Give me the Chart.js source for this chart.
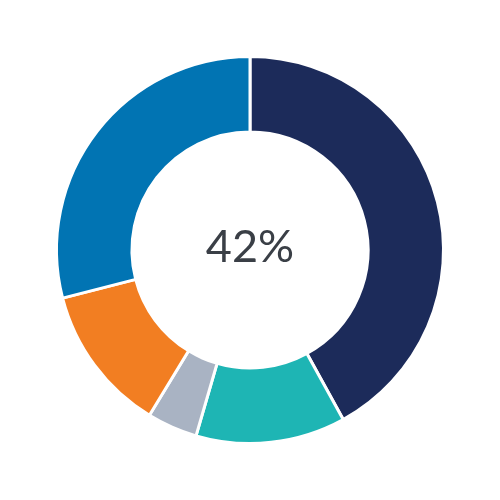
<!DOCTYPE html>
<html>
<head>
<meta charset="utf-8">
<script src="https://cdn.jsdelivr.net/npm/chart.js@4"></script>
<style>
  html, body { margin: 0; padding: 0; background: #fff; }
  #wrap { width: 500px; height: 500px; }
</style>
</head>
<body>
<div id="wrap"><canvas id="pieCanvas"></canvas></div>
<script>
const categories = ["A", "B", "C", "D", "E"];
const shares = [42, 12.5, 4.2, 12.3, 29];
const colors = ["#1c2b5a", "#1eb5b4", "#a9b3c3", "#f27e22", "#0174b3"];
const centerLabel = "42%";

const centerText = {
    id: "centerText",
    afterDraw(chart) {
        const ctx = chart.ctx;
        const meta = chart.getDatasetMeta(0).data[0];
        ctx.save();
        ctx.font = "400 45px Lato";
        ctx.fillStyle = "#3a3f46";
        ctx.textAlign = "center";
        ctx.textBaseline = "middle";
        ctx.fillText(centerLabel, meta.x, meta.y - 3);
        ctx.restore();
    }
};

new Chart(document.getElementById("pieCanvas"), {
    type: "doughnut",
    data: {
        labels: categories,
        datasets: [{
            data: shares,
            backgroundColor: colors,
            borderColor: "#ffffff",
            borderWidth: 3
        }]
    },
    options: {
        responsive: true,
        maintainAspectRatio: false,
        animation: false,
        cutout: "61%",
        layout: { padding: 55 },
        plugins: {
            legend: { display: false },
            tooltip: { enabled: false }
        }
    },
    plugins: [centerText]
});
</script>
</body>
</html>
